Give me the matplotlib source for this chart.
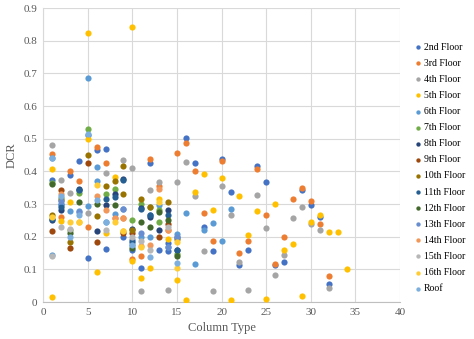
import matplotlib
matplotlib.use("Agg")
import matplotlib.pyplot as plt

plt.rcParams['font.family'] = ['Liberation Serif', 'DejaVu Serif']

floors = ["2nd Floor", "3rd Floor", "4th Floor", "5th Floor", "6th Floor", "7th Floor",
          "8th Floor", "9th Floor", "10th Floor", "11th Floor", "12th Floor", "13th Floor",
          "14th Floor", "15th Floor", "16th Floor", "Roof"]
colors = ["#4472C4", "#ED7D31", "#A5A5A5", "#FFC000", "#5B9BD5", "#70AD47",
          "#264478", "#9E480E", "#997300", "#255E91", "#43682B", "#698ED0",
          "#F1975A", "#B7B7B7", "#FFCD33", "#7CAFDD"]

# (column type, DCR) per floor
x2 = [1, 2, 3, 4, 4, 5, 5, 6, 7, 7, 9, 10, 10, 11, 12, 12, 13, 14, 14, 15, 16, 17, 18, 19, 20, 21, 22, 23, 24, 25, 26, 27, 29, 30, 31, 32]
y2 = [0.373, 0.30, 0.39, 0.432, 0.342, 0.51, 0.136, 0.467, 0.468, 0.163, 0.20, 0.19, 0.16, 0.104, 0.427, 0.266, 0.158, 0.18, 0.155, 0.20, 0.502, 0.427, 0.23, 0.155, 0.437, 0.336, 0.112, 0.158, 0.416, 0.367, 0.112, 0.124, 0.344, 0.298, 0.26, 0.056]

x3 = [1, 2, 3, 4, 5, 6, 7, 8, 9, 10, 11, 12, 13, 14, 15, 16, 17, 18, 19, 20, 22, 23, 24, 25, 26, 27, 28, 29, 30, 31, 32]
y3 = [0.452, 0.26, 0.40, 0.37, 0.23, 0.475, 0.425, 0.256, 0.258, 0.132, 0.14, 0.437, 0.355, 0.22, 0.457, 0.488, 0.40, 0.273, 0.188, 0.433, 0.15, 0.188, 0.408, 0.268, 0.117, 0.199, 0.317, 0.35, 0.309, 0.239, 0.08]

x4 = [1, 2, 3, 5, 7, 9, 10, 11, 12, 13, 14, 15, 16, 17, 18, 19, 20, 21, 22, 23, 24, 25, 26, 27, 28, 29, 30, 31, 32]
y4 = [0.48, 0.373, 0.334, 0.273, 0.395, 0.435, 0.41, 0.035, 0.342, 0.368, 0.037, 0.368, 0.43, 0.324, 0.155, 0.035, 0.356, 0.266, 0.124, 0.038, 0.328, 0.226, 0.084, 0.145, 0.256, 0.29, 0.24, 0.222, 0.043]

x5 = [1, 1, 2, 3, 4, 5, 5, 6, 7, 8, 9, 10, 10, 11, 12, 13, 14, 15, 16, 17, 18, 19, 20, 21, 22, 23, 24, 25, 26, 27, 28, 29, 30, 31, 32, 33, 34]
y5 = [0.014, 0.406, 0.249, 0.307, 0.245, 0.823, 0.50, 0.092, 0.21, 0.383, 0.218, 0.842, 0.127, 0.073, 0.104, 0.317, 0.192, 0.068, 0.007, 0.337, 0.393, 0.282, 0.38, 0.007, 0.326, 0.205, 0.279, 0.009, 0.30, 0.16, 0.179, 0.02, 0.246, 0.267, 0.213, 0.216, 0.10]

x6 = [1, 1, 2, 3, 4, 5, 5, 6, 6, 7, 8, 9, 10, 11, 12, 13, 14, 15, 16, 17, 18, 19, 20, 21]
y6 = [0.44, 0.144, 0.297, 0.278, 0.28, 0.685, 0.295, 0.415, 0.37, 0.245, 0.271, 0.286, 0.175, 0.198, 0.198, 0.296, 0.17, 0.208, 0.273, 0.116, 0.222, 0.241, 0.188, 0.284]

x7 = [1, 2, 3, 4, 5, 7, 8, 10, 11, 12, 13, 13, 15]
y7 = [0.365, 0.32, 0.22, 0.335, 0.53, 0.33, 0.347, 0.25, 0.30, 0.29, 0.283, 0.246, 0.148]

x8 = [1, 2, 4, 6, 7, 8, 9, 10, 11, 12, 13, 14, 15]
y8 = [0.251, 0.283, 0.347, 0.217, 0.297, 0.332, 0.378, 0.225, 0.289, 0.26, 0.222, 0.281, 0.16]

x9 = [1, 2, 3, 5, 6, 9, 10, 13, 14]
y9 = [0.218, 0.342, 0.165, 0.425, 0.185, 0.212, 0.21, 0.20, 0.24]

x10 = [1, 2, 3, 5, 6, 7, 8, 9, 9, 10, 11, 12, 14, 15]
y10 = [0.266, 0.312, 0.185, 0.45, 0.263, 0.355, 0.37, 0.418, 0.33, 0.22, 0.317, 0.29, 0.307, 0.192]

x11 = [1, 2, 4, 7, 8, 9, 10, 11, 12, 14, 15]
y11 = [0.255, 0.29, 0.342, 0.317, 0.322, 0.373, 0.185, 0.284, 0.266, 0.266, 0.16]

x12 = [1, 3, 4, 6, 8, 10, 11, 12, 13, 14, 15]
y12 = [0.36, 0.21, 0.307, 0.30, 0.297, 0.165, 0.246, 0.23, 0.276, 0.25, 0.142]

x13 = [2, 4, 9, 11, 14, 15]
y13 = [0.31, 0.275, 0.286, 0.212, 0.17, 0.2]

x14 = [2, 6, 7, 8, 9, 11, 12, 13, 14]
y14 = [0.33, 0.324, 0.283, 0.256, 0.258, 0.172, 0.175, 0.345, 0.22]

x15 = [1, 2, 3, 7, 10, 11, 12, 14]
y15 = [0.14, 0.23, 0.225, 0.222, 0.2, 0.188, 0.158, 0.23]

x16 = [1, 3, 4, 6, 8, 9, 11, 13, 15, 15]
y16 = [0.26, 0.245, 0.245, 0.357, 0.245, 0.218, 0.168, 0.307, 0.185, 0.104]

xr = [1, 2, 3, 4, 5, 6, 7, 10, 12, 15]
yr = [0.44, 0.324, 0.2, 0.268, 0.515, 0.312, 0.245, 0.175, 0.138, 0.12]

xs = [x2, x3, x4, x5, x6, x7, x8, x9, x10, x11, x12, x13, x14, x15, x16, xr]
ys = [y2, y3, y4, y5, y6, y7, y8, y9, y10, y11, y12, y13, y14, y15, y16, yr]

fig = plt.figure(figsize=(4.74, 3.39), dpi=100)
ax = fig.add_axes([0.091, 0.109, 0.753, 0.867])

for xv, yv, c, lab in zip(xs, ys, colors, floors):
    ax.scatter(xv, yv, s=20, color=c, label=lab, linewidths=0, zorder=3)

ax.set_xlim(0, 40)
ax.set_ylim(0, 0.9)
ax.set_xticks(range(0, 41, 5))
ax.set_yticks([i / 10 for i in range(10)])
ax.set_yticklabels(["0"] + ["%.1f" % (i / 10) for i in range(1, 10)])
ax.grid(True, color="#D9D9D9", linewidth=0.8, zorder=0)
ax.set_axisbelow(True)
for side in ["top", "right"]:
    ax.spines[side].set_visible(False)
ax.spines["left"].set_color("#D9D9D9")
ax.spines["bottom"].set_color("#BFBFBF")
ax.tick_params(length=0, labelsize=8, colors="#595959", pad=4)
ax.set_xlabel("Column Type", fontsize=9, color="#595959", labelpad=4)
ax.set_ylabel("DCR", fontsize=9, color="#595959", labelpad=4)

fig.legend(loc="upper left", bbox_to_anchor=(0.872, 0.874), frameon=False,
           fontsize=7, markerscale=0.7, handletextpad=0.1, handlelength=1.0,
           labelspacing=0.73, borderaxespad=0, borderpad=0)

fig.savefig("out.png", dpi=100)
